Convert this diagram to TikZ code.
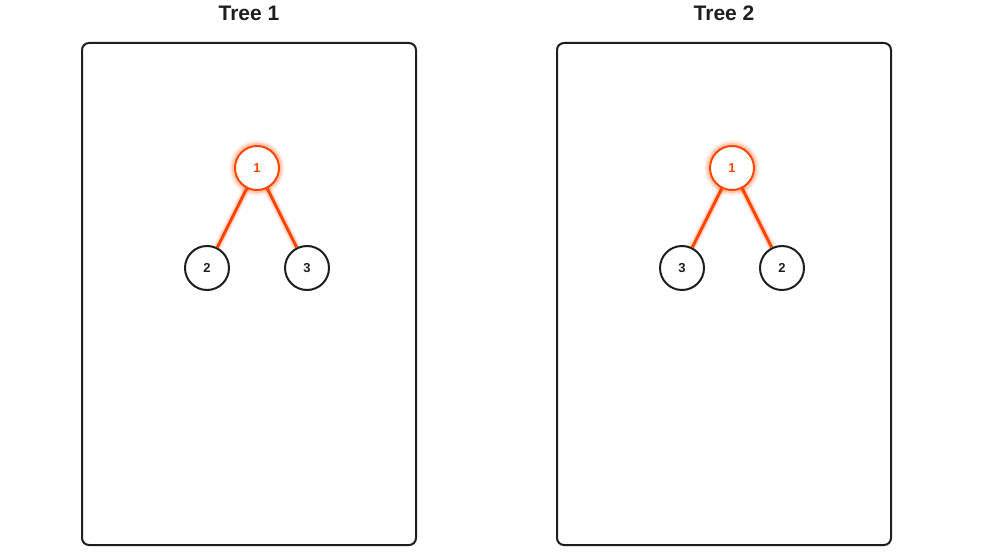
\documentclass[tikz,border=0pt]{standalone}
\usepackage{fontspec}
\setsansfont{Liberation Sans}
\usepackage{xcolor}
\definecolor{hl}{HTML}{FF4500}
\definecolor{ink}{HTML}{1E1E1E}

\begin{document}
\begin{tikzpicture}[
    x=1pt, y=-1pt,
    box/.style={draw=ink, line width=2pt, rounded corners=7pt},
    title/.style={font=\sffamily\bfseries\fontsize{21}{25}\selectfont, text=ink},
    tnode/.style={circle, draw=ink, line width=2pt, fill=white, minimum size=44pt, inner sep=0pt, font=\sffamily\bfseries\fontsize{13}{15}\selectfont, text=ink},
    root/.style={tnode, draw=hl, text=hl,
        preaction={draw=hl, line width=12pt, draw opacity=0.06},
        preaction={draw=hl, line width=9pt, draw opacity=0.1},
        preaction={draw=hl, line width=6pt, draw opacity=0.18}},
    edge/.style={draw=hl, line width=3pt,
        preaction={draw=hl, line width=9pt, draw opacity=0.07},
        preaction={draw=hl, line width=6pt, draw opacity=0.15}}
]
\useasboundingbox (0,0) rectangle (984,556);

% Tree 1
\node[title] (title1) at (249,13) {Tree 1};
\draw[box] (82,43) rectangle (416,545);
\node[root] (a1) at (257,168) {1};
\node[tnode] (a2) at (207,268) {2};
\node[tnode] (a3) at (307,268) {3};
\draw[edge] (a1) -- (a2);
\draw[edge] (a1) -- (a3);

% Tree 2
\node[title] (title2) at (724,13) {Tree 2};
\draw[box] (557,43) rectangle (891,545);
\node[root] (b1) at (732,168) {1};
\node[tnode] (b3) at (682,268) {3};
\node[tnode] (b2) at (782,268) {2};
\draw[edge] (b1) -- (b3);
\draw[edge] (b1) -- (b2);
\end{tikzpicture}
\end{document}
